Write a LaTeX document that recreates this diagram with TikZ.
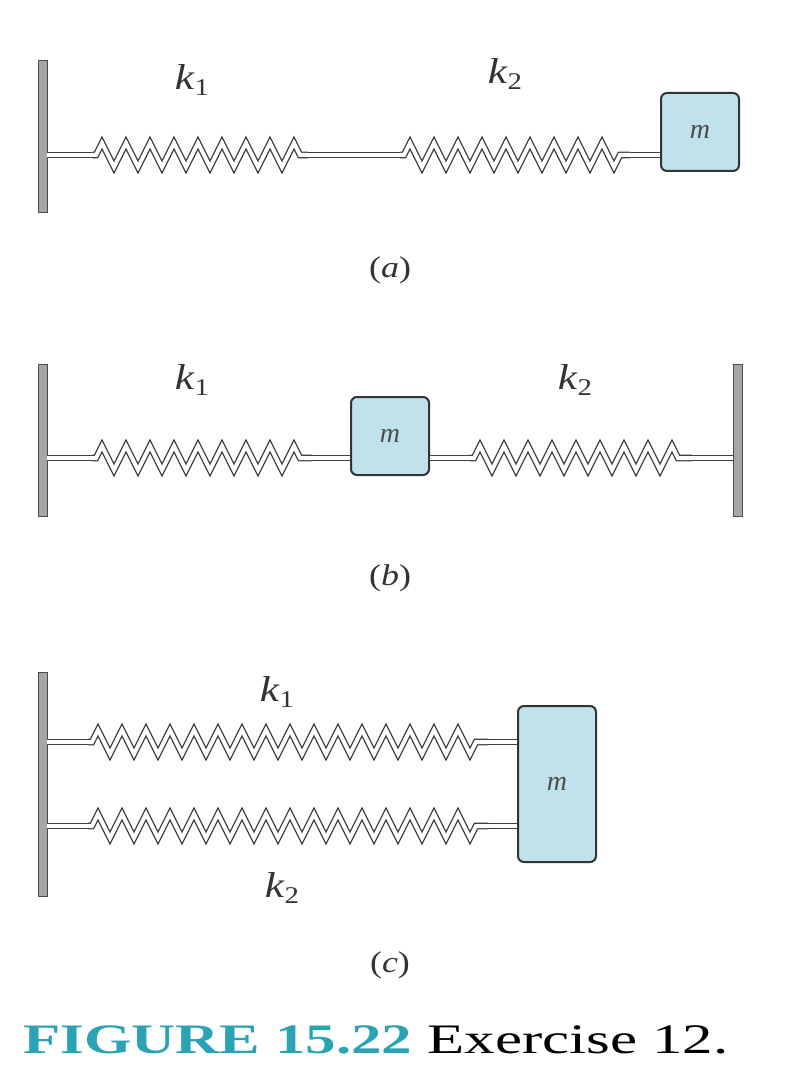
\documentclass[tikz,border=0pt]{standalone}
\usepackage{fontspec}
\setmainfont{Liberation Serif}
\usetikzlibrary{decorations.pathmorphing}
\definecolor{massblue}{HTML}{BFE2EC}
\definecolor{capteal}{HTML}{2AA3B5}
\newcommand{\kk}[1]{\textit{k}\raisebox{-0.35ex}{\fontsize{24}{24}\selectfont #1}}
\tikzset{
  wall/.style={fill=black!35, draw=black!70, line width=0.8pt},
  rod/.style={draw=black!75, line width=1.3pt, double=white, double distance=4pt},
  spr/.style={rod, decorate, decoration={zigzag, segment length=24pt, amplitude=12pt, pre length=4pt, post length=4pt}},
  mass/.style={draw=black!80, fill=massblue, line width=2pt, rounded corners=6pt, minimum width=78pt, font=\itshape\fontsize{28}{28}\selectfont, text=black!70},
  lab/.style={font=\fontsize{36}{36}\selectfont, text=black!80, xscale=1.2},
  captxt/.style={font=\fontsize{30}{30}\selectfont, text=black!80, xscale=1.2}
}
\begin{document}
\begin{tikzpicture}[x=1pt,y=-1pt]
\useasboundingbox (0,0) rectangle (784,1091);
% (a)
\fill[wall] (38,60) rectangle (47,212);
\node[mass, minimum height=78pt] (ma) at (700,132) {m};
\coordinate (a0) at (47,155);
\coordinate (a1) at (92,155);
\coordinate (a2) at (308,155);
\coordinate (a3) at (400,155);
\coordinate (a4) at (630,155);
\draw[rod] (a0) -- (a1);
\draw[spr] (a1) -- (a2);
\draw[rod] (a2) -- (a3);
\draw[spr] (a3) -- (a4);
\draw[rod] (a4) -- (ma.west |- a4);
\node[lab] (ka1) at (192,80) {\kk{1}};
\node[lab] (ka2) at (505,74) {\kk{2}};
\node[captxt] (ca) at (390,270) {(\textit{a})};
% (b)
\fill[wall] (38,364) rectangle (47,516);
\fill[wall] (733,364) rectangle (742,516);
\node[mass, minimum height=78pt] (mb) at (390,436) {m};
\coordinate (b0) at (47,458);
\coordinate (b1) at (92,458);
\coordinate (b2) at (312,458);
\coordinate (b3) at (470,458);
\coordinate (b4) at (692,458);
\draw[rod] (b0) -- (b1);
\draw[spr] (b1) -- (b2);
\draw[rod] (b2) -- (mb.west |- b2);
\draw[rod] (mb.east |- b3) -- (b3);
\draw[spr] (b3) -- (b4);
\draw[rod] (b4) -- (733,458);
\node[lab] (kb1) at (192,380) {\kk{1}};
\node[lab] (kb2) at (575,380) {\kk{2}};
\node[captxt] (cb) at (390,578) {(\textit{b})};
% (c)
\fill[wall] (38,672) rectangle (47,896);
\node[mass, minimum height=156pt] (mc) at (557,784) {m};
\coordinate (c0) at (47,742);
\coordinate (c1) at (88,742);
\coordinate (c2) at (488,742);
\coordinate (d0) at (47,826);
\coordinate (d1) at (88,826);
\coordinate (d2) at (488,826);
\draw[rod] (c0) -- (c1);
\draw[spr] (c1) -- (c2);
\draw[rod] (c2) -- (mc.west |- c2);
\draw[rod] (d0) -- (d1);
\draw[spr] (d1) -- (d2);
\draw[rod] (d2) -- (mc.west |- d2);
\node[lab] (kc1) at (277,692) {\kk{1}};
\node[lab] (kc2) at (282,888) {\kk{2}};
\node[captxt] (cc) at (390,965) {(\textit{c})};
% caption
\node[anchor=west, font=\fontsize{42}{42}\selectfont, xscale=1.45] (fig) at (18,1040) {\textcolor{capteal}{\bfseries FIGURE 15.22}\ Exercise 12.};
\end{tikzpicture}
\end{document}
